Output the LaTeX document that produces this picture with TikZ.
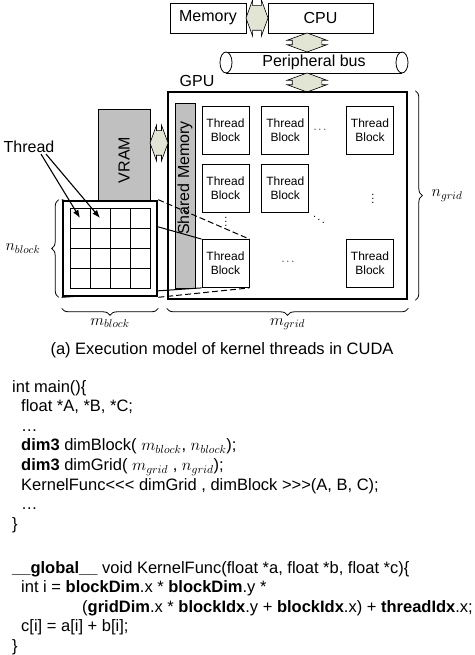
\RequirePackage{fix-cm}
\documentclass[tikz,border=0pt]{standalone}
\usepackage{fontspec}
\setmainfont{Liberation Sans}
\usetikzlibrary{shapes.arrows, arrows.meta, positioning, calc, decorations.pathreplacing}
\definecolor{memgray}{RGB}{192,192,192}
\definecolor{arrowfill}{RGB}{226,229,212}
\pgfdeclarelayer{front}
\pgfsetlayers{main,front}

\begin{document}
\begin{tikzpicture}[x=1pt, y=-1pt,
        box/.style={draw, line width=0.8pt, inner sep=0pt, minimum height=30pt, font=\fontsize{16}{18}\selectfont},
        tblock/.style={draw, line width=0.8pt, minimum width=47pt, minimum height=48pt, inner sep=0pt, align=center, font=\fontsize{12}{14}\selectfont},
        memrect/.style={draw, line width=0.8pt, fill=memgray, inner sep=0pt},
        dblarrow/.style={double arrow, draw, fill=arrowfill, line width=0.6pt, double arrow tip angle=140, inner sep=0pt},
        heavybox/.style={draw, line width=2.6pt, inner sep=0pt},
        tcell/.style={draw, line width=0.8pt, minimum size=20pt, inner sep=0pt},
        curly/.style={decorate, decoration={brace, amplitude=7pt}, line width=0.8pt},
        dimlabel/.style={inner sep=1pt, font=\fontsize{16}{18}\selectfont},
        dotlabel/.style={inner sep=0pt, font=\fontsize{11}{12}\selectfont},
        pointer/.style={-{Latex[length=8pt, width=6pt]}, line width=1.1pt},
        link/.style={line width=1pt},
        codetext/.style={anchor=north west, inner sep=0pt, align=left, font=\fontsize{16.5}{19.6}\selectfont}
    ]
        \useasboundingbox (0,0) rectangle (474,655);

        % Host side
        \node[box, minimum width=76pt] (mem) at (208,18) {Memory};
        \node[box, minimum width=105pt] (cpu) at (320.5,18) {CPU};
        \node[dblarrow, minimum height=22pt, minimum width=36pt, inner ysep=12pt, double arrow head extend=6pt] (memcpu) at ($(mem.east)!0.5!(cpu.west)$) {};

        % Peripheral bus (tube)
        \node[dimlabel] (bus) at (314,62.5) {Peripheral bus};
        \draw[line width=0.8pt] (226,52) -- (402,52) (226,73) -- (402,73);
        \draw[line width=0.8pt, fill=white] (226,62.5) ellipse [x radius=6pt, y radius=10.5pt];
        \draw[line width=0.8pt] (402,62.5) ellipse [x radius=6pt, y radius=10.5pt];
        \node[dblarrow, rotate=90, minimum height=19pt, minimum width=39pt, inner ysep=14.5pt, double arrow head extend=5pt] (cpubus) at (307,42.5) {};
        \node[dblarrow, rotate=90, minimum height=19pt, minimum width=39pt, inner ysep=14.5pt, double arrow head extend=5pt] (busgpu) at (307,82.5) {};

        % Device side
        \node[memrect, minimum width=52pt, minimum height=92pt] (vram) at (124,155) {};
        \node[dimlabel, rotate=90] (vramlabel) at (124,160) {VRAM};
        \node[heavybox, minimum width=239pt, minimum height=207pt] (gpu) at (287.5,195.5) {};
        \node[dimlabel] (gpulabel) at (197,81) {GPU};
        \node[dblarrow, minimum height=18pt, minimum width=35pt, inner ysep=12pt, double arrow head extend=5.5pt] (vramgpu) at (159,143) {};
        \node[memrect, minimum width=20pt, minimum height=185pt] (smem) at (185,195.5) {};
        \node[dimlabel, rotate=90] (smemlabel) at (185,178) {Shared Memory};

        % Thread blocks of the grid
        \node[tblock] (tb11) at (225.5,130.5) {Thread\\Block};
        \node[tblock, right=12pt of tb11] (tb12) {Thread\\Block};
        \node[tblock] (tb13) at (370,130.5) {Thread\\Block};
        \node[tblock, below=9pt of tb11] (tb21) {Thread\\Block};
        \node[tblock, below=9pt of tb12] (tb22) {Thread\\Block};
        \node[tblock] (tb31) at (225.5,263.5) {Thread\\Block};
        \node[tblock] (tb33) at (370,263.5) {Thread\\Block};

        \node[dotlabel] (hdots1) at (320,130) {$\cdots$};
        \node[dotlabel] (vdots1) at (373,196) {$\vdots$};
        \node[dotlabel] (vdots2) at (226,219) {$\vdots$};
        \node[dotlabel] (ddots1) at (319,217) {$\ddots$};
        \node[dotlabel] (hdots2) at (288,262) {$\cdots$};

        % Enlarged thread block
        \begin{pgfonlayer}{front}
        \node[heavybox, fill=white, minimum width=94pt, minimum height=95pt] (blk) at (110,248.5) {};
        \foreach \r in {1,...,4}
            \foreach \c in {1,...,4}
                \node[tcell] (c\r\c) at (60+20*\c,198+20*\r) {};
        \node[dimlabel] (thr) at (29,147) {Thread};
        \draw[pointer] ([xshift=12pt]thr.south) -- (c11.center);
        \draw[pointer] ([xshift=17pt]thr.south) -- (c12.center);
        \end{pgfonlayer}

        \draw[link] (blk.north west) -- (tb31.north west);
        \draw[link, dash pattern=on 6pt off 3pt] (blk.north east) -- (tb31.north east);
        \draw[link] (blk.south west) -- (tb31.south west);
        \draw[link, dash pattern=on 6pt off 3pt] (blk.south east) -- (tb31.south east);

        % Dimensions
        \draw[curly] ([xshift=-3pt]blk.south west) -- ([xshift=-3pt]blk.north west) node[midway, left=17pt, dimlabel] (nblock) {$n_{block}$};
        \draw[curly] ([yshift=-11pt]blk.south east) -- ([yshift=-11pt]blk.south west) node[midway, below=9pt, dimlabel] (mblock) {$m_{block}$};
        \draw[curly] ([yshift=-8pt]gpu.south east) -- ([yshift=-8pt]gpu.south west) node[midway, below=9pt, dimlabel] (mgrid) {$m_{grid}$};
        \draw[curly] ([xshift=7pt]gpu.north east) -- ([xshift=7pt]gpu.south east) node[midway, right=15pt, dimlabel] (ngrid) {$n_{grid}$};

        \node[font=\fontsize{16.5}{19}\selectfont] (caption) at (222,350) {(a) Execution model of kernel threads in CUDA};

        % Source listing
        \node[codetext] (mainsrc) at (12,380) {int main()\{\\
            \hspace*{9pt}float *A, *B, *C;\\
            \hspace*{9pt}\ldots\\
            \hspace*{9pt}\textbf{dim3} dimBlock( $m_{block}$, $n_{block}$);\\
            \hspace*{9pt}\textbf{dim3} dimGrid( $m_{grid}$ , $n_{grid}$);\\
            \hspace*{9pt}KernelFunc<\kern0pt<\kern0pt< dimGrid , dimBlock >\kern0pt>\kern0pt>(A, B, C);\\
            \hspace*{9pt}\ldots\\
            \}};
        \node[codetext] (kernsrc) at (12,561) {\textbf{\_\_global\_\_} void KernelFunc(float *a, float *b, float *c)\{\\
            \hspace*{9pt}int i = \textbf{blockDim}.x * \textbf{blockDim}.y *\\
            \hspace*{70pt}(\textbf{gridDim}.x * \textbf{blockIdx}.y + \textbf{blockIdx}.x) + \textbf{threadIdx}.x;\\
            \hspace*{9pt}c[i] = a[i] + b[i];\\
            \}};
    \end{tikzpicture}
\end{document}
